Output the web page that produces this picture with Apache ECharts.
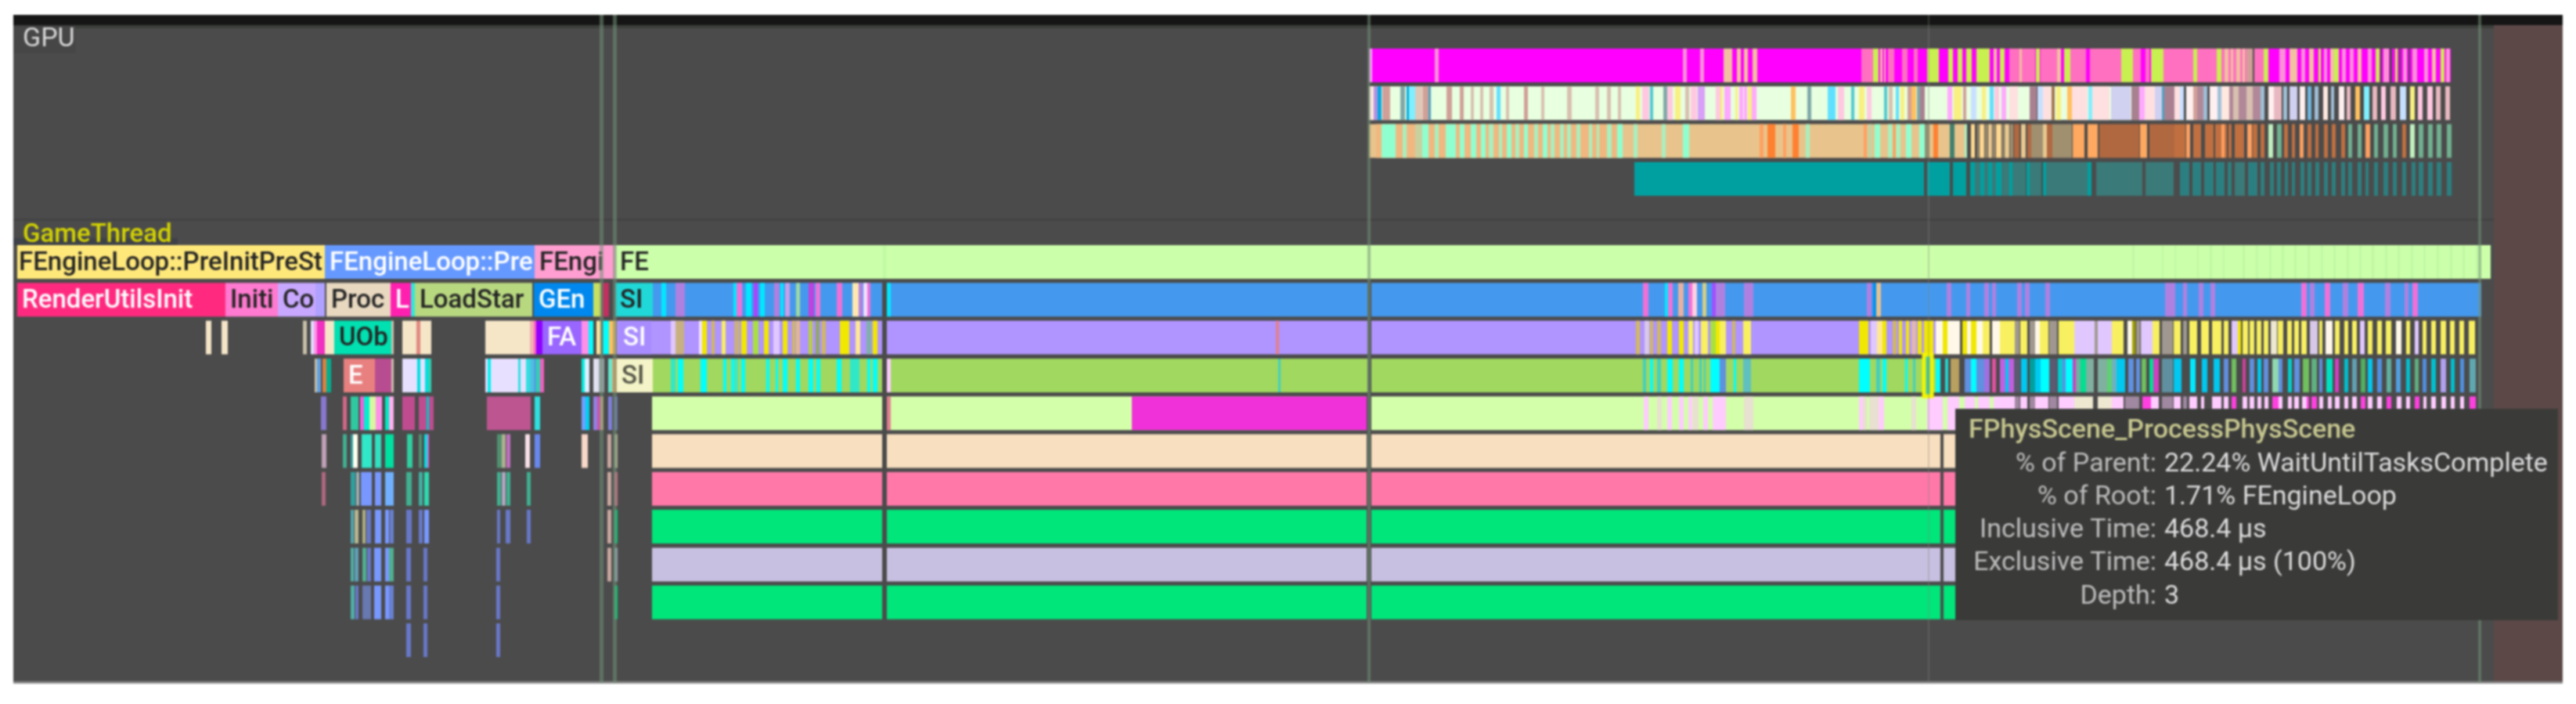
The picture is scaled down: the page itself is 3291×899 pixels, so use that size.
<!DOCTYPE html>
<html><head><meta charset="utf-8">
<style>html,body{margin:0;padding:0;background:#fff}#c{width:3291px;height:899px;filter:blur(1.1px)}</style>
<script src="https://cdn.jsdelivr.net/npm/echarts@6/dist/echarts.min.js"></script>
</head><body><div id="c"></div>
<script>
// Event classes; every span below is [start, end, class, optional label], time in trace ticks.
const palette={mag:'#ff00ff',pkm:'#ff70c0',lime:'#c8f050',pch:'#f0c0a0',pal:'#ff90d8',mnt:'#e8ffe0',sal:'#ffe8e0',orc:'#b090e0',sky:'#00a8e0',rsb:'#d0a098',tgy:'#80a8a8',icy:'#80f0ff',bge:'#e0c8b8',tlb:'#50a0c0',dsk:'#d8c0b0',lsk:'#60e0ff',lyl:'#f8f080',lpk:'#ffc8e0',tl2:'#50c8d0',mau:'#d8a0f8',lmg:'#ffa8ff',amb:'#ffc060',sfp:'#ffe0e0',lbl:'#d0d0f0',tau:'#a88090',lsb:'#c8e0ff',brn:'#a07050',dpl:'#b08898',wpk:'#fff0f0',cpk:'#e8b8c0',gbl:'#a0c0d8',mbl:'#70b8e0',gap:'#4b4b4b',
wht:'#e8c48c',org:'#f0b880',aqu:'#90ffd0',agr:'#a8f0c0',sag:'#c8d0a0',ora:'#ffa060',hot:'#ff8030',ogy:'#909070',dtl:'#408070',wsh:'#ffd890',tan:'#e8c890',rst:'#b06840',khk:'#a09070',ap2:'#ffa860',cop:'#c07040',grn:'#70b090',pgr:'#c0f0c0',
tel:'#00a0a0',tdk:'#2c7f80',tmd:'#3a7a78',
f1:'#ffe87a',f2:'#6699ff',f3:'#ff9ed0',f4:'#ccffaa',f5:'#c0f8a4',rui:'#ff2a7f',ini:'#ff7ad0',cmp:'#c8a8ff',cp2:'#b0a0ff',prc:'#e8d8c0',ln:'#ff20b0',cyl:'#30e8d8',lds:'#b8d880',gen:'#0088ee',ygr:'#c8e060',dre:'#c03060',si1:'#20d8d8',blu:'#4499ee',
pur:'#b080e0',pnk:'#f070d8',cyn:'#00e8ff',vio:'#b040ff',ppk:'#c8a0e8',sgr:'#a0d8a0',dmg:'#c040e0',wyl:'#ffe8b0',lwh:'#f0e0ff',gb:'#e8b0a0',ltp:'#ffd0e0',dky:'#d8d080',vdp:'#a050ff',blz:'#0090f0',kha:'#e8c090',
lav:'#b094ff',si2:'#a88cff',lvw:'#e0c8ff',ttn:'#c8b080',ywl:'#f0e800',ytn:'#d0b860',ypl:'#f8f060',glm:'#a8e040',ror:'#e0b890',ldg:'#b8d040',ggr:'#90a868',lye:'#ffe890',tlg:'#80b0a8',vwh:'#fff8e8',gry:'#a09890',olv:'#a0a000',gyl:'#d8c8e8',rog:'#e0b8b0',
gre:'#a0d860',si3:'#f4f4c8',cya:'#00ffff',tur:'#30e8c8',aqg:'#40e8c0',tqd:'#40d0c0',mbu:'#6090e0',tcy:'#60c0c0',skb:'#20d8d0',bro:'#b8a060',pvi:'#a070e0',hrs:'#e050a0',pv2:'#c060e0',dbl:'#5a5a70',ska:'#00c8f0',dtt:'#00a0a0',sgm:'#70b0a0',emr:'#00e090',sg2:'#80b0a0',mgr:'#60d070',sbl:'#70b0c0',lgr:'#70c060',mgt:'#d040c0',tbl:'#6090a0',hmg:'#d040a0',mnt2:'#90d8b0',tqe:'#00d0d0',tg2:'#60b080',sea:'#00e0c0',tbg:'#60a0b0',gr3:'#50b060',bl3:'#5090e0',tl3:'#60b0a0',bl4:'#50a0e0',tc3:'#00c0d0',blv:'#b0a0f0',ttl:'#60a8b0',
lgn:'#d4ffaa',lil:'#ffccff',pbg:'#e8e0d0',cre:'#eee8d0',dgy:'#a088a0',hpk:'#ff40e0',mag2:'#f030d8',rsl:'#e08090',
pea:'#f8dfc0',rsp:'#ff78a8',jad:'#00e67a',lil2:'#c8c0e0',
crm:'#f5e6c8',ash:'#c8c0a8',lpb:'#e0e0ff',fuc:'#f030c0',ubj:'#00e0b0',ash2:'#d0c0b0',sal2:'#e08880',ash3:'#f0b0b0',hp2:'#ff60c0',deep:'#9000ff',fa:'#9966ff',pkl:'#ff90e8',cgl:'#00ffff',ylo:'#ffe8a0',gld:'#ffc060',
blp:'#60a0e0',orb:'#e08040',tlk:'#00b090',sal3:'#e88080',plm:'#b84c90',lil3:'#e8e0ff',cyb:'#00e0e0',tlg2:'#30d0b0',cyw:'#00f0f0',tq2:'#30e0e0',skl:'#50c0e0',bbl:'#50a0e0',ht2:'#f060c0',tcq:'#00f0e0',wsb:'#e0f0ff',wgb:'#e0e0f0',sgb:'#a0a8b0',tq3:'#60e8d0',aor:'#f0a868',
vdl:'#8878d0',rdl:'#d06888',tq4:'#30c8a0',ptr:'#f060d8',tq5:'#00f0d0',ylg:'#d8f8a0',tq6:'#00e8c0',lpp:'#ffb0f0',ply:'#c04c90',tq7:'#00c8c0',ply2:'#bc5590',bpu:'#70a0ff',skb2:'#00d0f0',bvi:'#9080e0',mg3:'#d050b0',tng:'#d8b080',bvd:'#8080e0',ind:'#6870b0',
mpg:'#c0a0b8',grb:'#40b090',wsl:'#fffff0',tq8:'#30e8c8',tq9:'#30e0c0',emg:'#00e0a0',tq10:'#30d0a0',dgn:'#509070',khk2:'#b0b090',plv:'#c070c0',wpn:'#f8e0e8',blf:'#6888f0',psl:'#f8d8c8',rgy:'#c8a8a0',
rdk:'#b06880',tb1:'#30a0a0',sgg:'#a0b0b0',pbl:'#7898ff',ltb:'#70b0ff',tb2:'#40b0a0',tq11:'#30d8b0',mvb:'#b0a8c0',
tb3:'#50a8b0',khp:'#b8b890',olg:'#b0b080',ins:'#6878c8',inm:'#6880d0',jd2:'#00c070',tb4:'#50b0a8',sb2:'#60a0b8',tg3:'#50b090',sgy:'#90a0b0',inb:'#6878b0'};

const gpuA=[[1749,3131,'mag'],[1749,1753,'lmg'],[1833,1838,'pal'],[2150,2155,'pal'],[2172,2177,'pal'],[2202,2213,'pch'],[2219,2224,'pch'],[2228,2233,'pch'],[2239,2245,'pch'],[2378,2393,'pkm'],[2393,2400,'lime'],[2402,2405,'pch'],[2407,2409,'pch'],[2412,2420,'pkm'],[2430,2437,'pkm'],[2445,2450,'pkm'],[2462,2477,'lime'],[2489,2495,'lime'],[2501,2507,'lime'],[2512,2519,'lime'],[2525,2542,'lime'],[2547,2551,'pch'],[2555,2561,'lime'],[2567,2580,'pkm'],[2580,2583,'pch'],[2583,2600,'pkm'],[2601,2606,'lime'],[2607,2628,'pkm'],[2628,2633,'pch'],[2637,2645,'lime'],[2645,2665,'pkm'],[2670,2710,'pkm'],[2710,2725,'lime'],[2725,2735,'pkm'],[2741,2746,'pkm'],[2748,2764,'lime'],[2764,2802,'pkm'],[2802,2807,'lime'],[2807,2832,'pkm'],[2832,2838,'lime'],[2838,2870,'pkm'],[2842,2847,'pch'],[2850,2853,'pch'],[2857,2862,'pch'],[2865,2868,'pch'],[2870,2878,'rsb'],[2878,2880,'gap'],[2880,2892,'pkm'],[2892,2898,'lime'],[2912,2920,'pal'],[2925,2935,'pch'],[2940,2945,'pal'],[2950,2956,'pch'],[2962,2965,'lime'],[2969,2973,'pal'],[2977,2982,'pch'],[2982,2988,'lime'],[2992,2997,'pal'],[3002,3007,'pal'],[3012,3017,'pch'],[3025,3030,'pal'],[3035,3040,'lime'],[3041,3043,'gap'],[3045,3052,'pal'],[3053,3056,'gap'],[3060,3063,'lime'],[3065,3067,'gap'],[3070,3075,'pal'],[3077,3079,'gap'],[3082,3088,'pal'],[3097,3102,'pal'],[3107,3112,'pch'],[3118,3123,'lime'],[3125,3130,'pal']];

const gpuB=[[1749,2893,'mnt'],[1749,1755,'sal'],[1755,1760,'orc'],[1760,1765,'sky'],[1766,1776,'rsb'],[1789,1795,'tgy'],[1797,1800,'sky'],[1800,1808,'icy'],[1808,1818,'bge'],[1818,1825,'rsb'],[1825,1828,'tlb'],[1848,1855,'rsb'],[1865,1870,'rsb'],[1879,1883,'dsk'],[1891,1895,'dsk'],[1903,1908,'dsk'],[1912,1917,'lsk'],[1924,1928,'dsk'],[1947,1952,'rsb'],[1969,1973,'dsk'],[2002,2008,'dsk'],[2038,2043,'dsk'],[2053,2058,'dsk'],[2067,2071,'dsk'],[2090,2095,'lyl'],[2098,2107,'lpk'],[2108,2112,'tl2'],[2125,2130,'tgy'],[2130,2137,'lpk'],[2140,2147,'lyl'],[2153,2158,'dsk'],[2160,2168,'lpk'],[2169,2178,'mau'],[2192,2198,'lpk'],[2198,2201,'lyl'],[2203,2211,'lmg'],[2217,2220,'lyl'],[2222,2227,'lmg'],[2228,2232,'lmg'],[2233,2238,'lyl'],[2238,2244,'lmg'],[2288,2294,'amb'],[2309,2314,'tgy'],[2335,2345,'lsk'],[2348,2356,'lpk'],[2365,2369,'tl2'],[2375,2382,'lyl'],[2385,2391,'lpk'],[2407,2411,'tl2'],[2413,2418,'dsk'],[2422,2426,'lsk'],[2428,2433,'lyl'],[2437,2442,'rsb'],[2442,2448,'amb'],[2449,2453,'tgy'],[2453,2459,'tau'],[2488,2494,'lmg'],[2496,2506,'lyl'],[2508,2512,'rsb'],[2518,2525,'lsb'],[2532,2537,'lyl'],[2542,2547,'lsk'],[2548,2554,'lpk'],[2557,2563,'lmg'],[2567,2578,'sfp'],[2593,2602,'tau'],[2602,2603,'gap'],[2603,2610,'lsb'],[2610,2620,'sfp'],[2621,2625,'brn'],[2627,2633,'lyl'],[2641,2647,'amb'],[2647,2667,'sfp'],[2668,2673,'icy'],[2673,2695,'sfp'],[2697,2722,'lbl'],[2723,2733,'tau'],[2733,2740,'lmg'],[2740,2753,'sfp'],[2753,2762,'lbl'],[2762,2765,'tlb'],[2765,2778,'tau'],[2778,2785,'sfp'],[2785,2790,'lsb'],[2790,2793,'gap'],[2793,2802,'wpk'],[2802,2807,'rsb'],[2807,2815,'dpl'],[2815,2820,'gbl'],[2820,2823,'gap'],[2823,2833,'wpk'],[2833,2838,'gbl'],[2838,2848,'sal'],[2848,2853,'dpl'],[2853,2860,'dsk'],[2860,2870,'dpl'],[2870,2878,'dsk'],[2878,2888,'dpl'],[2888,2893,'gbl'],[2898,2905,'wpk'],[2905,2915,'cpk'],[2917,2922,'gbl'],[2925,2935,'lbl'],[2938,2945,'wpk'],[2948,2953,'mbl'],[2957,2962,'gbl'],[2968,2974,'sal'],[2978,2982,'gbl'],[2988,2995,'wpk'],[2998,3003,'cpk'],[3009,3015,'amb'],[3020,3027,'icy'],[3031,3037,'cpk'],[3042,3048,'lpk'],[3054,3061,'cpk'],[3066,3074,'lsb'],[3079,3085,'lyl'],[3089,3095,'lpk'],[3101,3108,'lpk'],[3112,3118,'cpk'],[3124,3130,'cpk']];

const gpuC=[[1749,2459,'wht'],[1758,1765,'org'],[1765,2073,'org'],[1765,1783,'aqu'],[1792,1797,'agr'],[1808,1817,'sag'],[1817,1825,'aqu'],[1833,1838,'agr'],[1847,1860,'aqu'],[1865,1871,'aqu'],[1879,1886,'aqu'],[1892,1898,'aqu'],[1902,1908,'agr'],[1915,1919,'agr'],[1925,1931,'aqu'],[1936,1941,'agr'],[1947,1952,'aqu'],[1960,1965,'agr'],[1971,1977,'aqu'],[1981,1986,'agr'],[1993,1998,'agr'],[2002,2007,'agr'],[2014,2019,'agr'],[2030,2034,'agr'],[2040,2043,'agr'],[2053,2059,'agr'],[2066,2073,'aqu'],[2087,2092,'agr'],[2123,2128,'agr'],[2150,2158,'aqu'],[2248,2253,'ora'],[2258,2268,'hot'],[2278,2282,'ora'],[2290,2298,'hot'],[2307,2312,'agr'],[2381,2385,'ora'],[2386,2392,'sag'],[2395,2402,'aqu'],[2412,2418,'agr'],[2418,2422,'ora'],[2422,2428,'agr'],[2435,2442,'aqu'],[2452,2459,'aqu'],[2459,2465,'ogy'],[2465,2470,'wht'],[2470,2476,'hot'],[2476,2491,'wht'],[2491,2497,'dtl'],[2497,2510,'wht'],[2510,2513,'agr'],[2518,2523,'wsh'],[2526,2528,'khk'],[2529,2535,'wsh'],[2536,2539,'khk'],[2540,2545,'tan'],[2546,2549,'khk'],[2550,2557,'wsh'],[2558,2560,'khk'],[2561,2567,'tan'],[2568,2572,'khk'],[2573,2580,'rst'],[2582,2588,'tan'],[2590,2595,'rst'],[2595,2610,'khk'],[2610,2615,'tan'],[2615,2622,'rst'],[2622,2647,'khk'],[2648,2663,'ap2'],[2667,2680,'ap2'],[2682,2733,'rst'],[2734,2743,'ap2'],[2746,2778,'rst'],[2778,2785,'cop'],[2785,2792,'cop'],[2793,2798,'ora'],[2802,2812,'cop'],[2817,2828,'cop'],[2830,2838,'cop'],[2838,2842,'ora'],[2842,2845,'cop'],[2847,2851,'cop'],[2855,2867,'cop'],[2871,2877,'ora'],[2878,2884,'cop'],[2888,2893,'cop'],[2898,2904,'pgr'],[2909,2915,'grn'],[2918,2923,'cop'],[2928,2932,'cop'],[2938,2943,'ora'],[2948,2953,'cop'],[2958,2962,'cop'],[2969,2974,'cop'],[2979,2984,'cop'],[2991,2996,'cop'],[3000,3005,'grn'],[3012,3017,'grn'],[3022,3028,'ora'],[3033,3038,'grn'],[3045,3051,'grn'],[3057,3062,'grn'],[3069,3074,'cop'],[3079,3085,'pgr'],[3090,3096,'grn'],[3102,3108,'grn'],[3113,3119,'grn'],[3126,3132,'grn']];

const gpuD=[[2088,2458,'tel'],[2462,2491,'tel'],[2495,2512,'tel'],[2517,2567,'tmd'],[2517,2523,'tel'],[2530,2535,'tel'],[2540,2545,'tel'],[2550,2557,'tel'],[2567,2571,'tel'],[2571,2588,'tmd'],[2589,2593,'tel'],[2593,2608,'tmd'],[2610,2614,'tel'],[2614,2667,'tmd'],[2667,2672,'tel'],[2678,2737,'tmd'],[2741,2777,'tmd'],[2785,2797,'tdk'],[2801,2812,'tdk'],[2816,2828,'tdk'],[2831,2842,'tdk'],[2846,2851,'tdk'],[2855,2868,'tmd'],[2872,2884,'tdk'],[2888,2893,'tdk'],[2900,2905,'tdk'],[2909,2914,'tdk'],[2919,2923,'tdk'],[2928,2932,'tdk'],[2939,2944,'tdk'],[2948,2953,'tdk'],[2958,2963,'tdk'],[2969,2974,'tdk'],[2979,2984,'tdk'],[2991,2996,'tdk'],[3000,3005,'tdk'],[3012,3017,'tdk'],[3022,3026,'tdk'],[3033,3038,'tdk'],[3045,3051,'tdk'],[3057,3062,'tdk'],[3069,3074,'tdk'],[3081,3086,'tdk'],[3090,3096,'tdk'],[3102,3108,'tdk'],[3113,3119,'tdk'],[3126,3132,'tdk']];

const th0=[[22,415,'f1','FEngineLoop::PreInitPreSt'],[415,683,'f2','FEngineLoop::Pre'],[683,786,'f3','FEngi'],[786,3182,'f4','FE'],[1128,1132,'f5'],[2724,2727,'f5'],[2762,2764,'f5'],[2778,2780,'f5'],[2807,2809,'f5'],[2823,2826,'f5'],[2840,2842,'f5'],[2865,2868,'f5'],[2882,2885,'f5'],[2899,2902,'f5'],[2915,2918,'f5'],[2931,2934,'f5'],[2948,2951,'f5'],[2965,2968,'f5'],[2981,2984,'f5'],[2998,3001,'f5'],[3014,3017,'f5'],[3030,3033,'f5'],[3047,3050,'f5'],[3063,3066,'f5'],[3080,3083,'f5'],[3096,3099,'f5'],[3113,3116,'f5'],[3130,3133,'f5'],[3146,3149,'f5'],[3163,3166,'f5']];

const th1=[[22,288,'rui','RenderUtilsInit'],[288,355,'ini','Initi'],[355,403,'cmp','Co'],[403,415,'cp2'],[417,499,'prc','Proc'],[499,525,'ln','L'],[525,530,'cyl'],[530,680,'lds','LoadStar'],[682,758,'gen','GEn'],[758,768,'ygr'],[770,778,'dre'],[786,834,'si1','SI'],[834,1127,'blu'],[1133,1747,'blu'],[1752,3170,'blu'],[845,851,'cyn'],[863,875,'pur'],[937,941,'cyn'],[941,948,'pnk'],[953,960,'cyn'],[963,968,'vio'],[971,977,'cyn'],[989,996,'pur'],[997,1001,'cyn'],[1003,1009,'ppk'],[1017,1022,'sgr'],[1033,1040,'dmg'],[1042,1048,'pnk'],[1069,1076,'pnk'],[1089,1097,'wyl'],[1097,1102,'pur'],[1103,1108,'lwh'],[1108,1112,'pnk'],[1133,1138,'cyn'],[2099,2106,'pnk'],[2127,2131,'cyn'],[2131,2137,'pnk'],[2144,2151,'gb'],[2157,2162,'pnk'],[2162,2168,'ltp'],[2175,2180,'dky'],[2187,2192,'vdp'],[2192,2204,'pur'],[2228,2240,'pur'],[2385,2391,'pur'],[2393,2397,'blz'],[2397,2403,'kha'],[2487,2493,'pur'],[2512,2517,'pur'],[2535,2541,'pur'],[2545,2550,'pur'],[2577,2583,'pur'],[2587,2593,'pur'],[2613,2619,'pur'],[2766,2779,'pur'],[2789,2794,'pur'],[2809,2815,'pur'],[2824,2830,'pur'],[2940,2947,'pnk'],[2951,2957,'pur'],[2970,2977,'pnk'],[2993,3000,'pur'],[3012,3020,'pnk'],[3047,3054,'pur'],[3072,3077,'pur'],[3082,3089,'pnk']];

const th2=[[263,270,'crm'],[283,291,'crm'],[387,392,'ash'],[397,401,'lpb'],[401,405,'pkl'],[405,415,'fuc'],[415,427,'crm'],[427,500,'ubj','UOb'],[500,503,'ash2'],[514,532,'crm'],[532,537,'sal2'],[537,551,'crm'],[620,677,'crm'],[677,682,'ash3'],[682,685,'hp2'],[685,693,'deep'],[693,743,'fa','FA'],[743,752,'pkl'],[752,758,'cgl'],[762,768,'ylo'],[770,778,'cgl'],[778,787,'gld'],[788,1127,'lav'],[790,832,'si2','SI'],[1133,1747,'lav'],[1752,2473,'lav'],[857,863,'lvw'],[863,874,'ttn'],[893,897,'lwh'],[897,903,'ywl'],[909,913,'ytn'],[922,927,'ypl'],[938,945,'ttn'],[947,954,'ywl'],[962,969,'glm'],[976,982,'ywl'],[988,996,'lvw'],[1000,1006,'ywl'],[1012,1016,'ytn'],[1017,1022,'ror'],[1033,1038,'ldg'],[1042,1047,'ggr'],[1050,1055,'ytn'],[1073,1085,'ywl'],[1093,1099,'lye'],[1107,1113,'tlg'],[1115,1121,'ywl'],[1630,1634,'rsl'],[2090,2095,'ytn'],[2101,2107,'gyl'],[2108,2112,'ytn'],[2117,2122,'ytn'],[2130,2136,'ywl'],[2145,2151,'ywl'],[2157,2163,'ypl'],[2165,2170,'lvw'],[2173,2182,'ypl'],[2185,2192,'glm'],[2192,2197,'ywl'],[2197,2205,'ypl'],[2213,2217,'ytn'],[2227,2237,'ypl'],[2375,2387,'ywl'],[2390,2398,'lvw'],[2398,2405,'lye'],[2405,2410,'ywl'],[2418,2423,'ytn'],[2426,2430,'ywl'],[2435,2439,'ywl'],[2442,2448,'rog'],[2450,2455,'ywl'],[2458,2470,'ywl'],[2473,2482,'vwh'],[2482,2488,'ywl'],[2488,2504,'vwh'],[2507,2513,'ywl'],[2513,2518,'vwh'],[2518,2525,'ywl'],[2525,2533,'vwh'],[2533,2542,'ypl'],[2545,2555,'vwh'],[2555,2574,'ypl'],[2574,2580,'gry'],[2581,2590,'ypl'],[2593,2600,'gry'],[2600,2606,'vwh'],[2606,2617,'ypl'],[2618,2628,'gry'],[2630,2650,'ypl'],[2650,2676,'lvw'],[2676,2680,'gry'],[2680,2698,'lvw'],[2698,2713,'ypl'],[2718,2724,'vwh'],[2724,2728,'olv'],[2729,2734,'gry'],[2735,2750,'lvw'],[2750,2759,'ypl'],[2762,2776,'gry'],[2777,2786,'ypl'],[2789,2794,'gry'],[2797,2807,'ypl'],[2812,2822,'ypl'],[2826,2838,'ypl'],[2841,2847,'ypl'],[2851,2859,'lvw'],[2859,2863,'ywl'],[2865,2872,'ypl'],[2874,2880,'ypl'],[2883,2889,'ypl'],[2892,2898,'ypl'],[2901,2909,'cre'],[2910,2917,'ypl'],[2922,2928,'ypl'],[2931,2937,'ypl'],[2940,2947,'ypl'],[2951,2961,'gyl'],[2963,2967,'ypl'],[2971,2980,'vwh'],[2983,2989,'ypl'],[2995,3000,'ypl'],[3005,3011,'ypl'],[3015,3021,'lvw'],[3025,3031,'ypl'],[3037,3043,'ypl'],[3048,3055,'ypl'],[3061,3068,'vwh'],[3074,3079,'ypl'],[3085,3090,'lvw'],[3095,3100,'ypl'],[3106,3112,'ypl'],[3118,3125,'ypl'],[3130,3136,'ypl'],[3142,3148,'ypl'],[3154,3162,'ypl']];

const th3=[[402,405,'ash'],[405,410,'blp'],[412,417,'orb'],[417,423,'tlk'],[439,479,'sal3','E'],[479,500,'plm'],[500,503,'ash2'],[514,533,'lil3'],[533,537,'cyb'],[537,543,'lil3'],[543,547,'cyb'],[547,551,'tlg2'],[620,623,'lwh'],[623,627,'cyw'],[627,662,'lil3'],[662,665,'tq2'],[665,672,'lil3'],[672,677,'tq2'],[677,682,'skl'],[682,685,'bbl'],[685,690,'tlg2'],[690,695,'ht2'],[743,747,'tcq'],[747,753,'wsb'],[758,765,'wgb'],[765,772,'sgb'],[777,782,'tq3'],[782,788,'aor'],[788,834,'si3','SI'],[834,1127,'gre'],[1133,1747,'gre'],[1752,2473,'gre'],[857,863,'tur'],[866,873,'cya'],[895,903,'cya'],[924,928,'cya'],[934,937,'cya'],[937,943,'aqg'],[947,952,'cya'],[979,983,'cya'],[991,994,'cya'],[1000,1006,'cya'],[1017,1022,'cya'],[1033,1039,'cya'],[1043,1048,'cya'],[1069,1075,'cya'],[1086,1098,'tur'],[1108,1112,'cya'],[1115,1121,'cya'],[1133,1138,'lil'],[1633,1636,'tqd'],[2099,2103,'tqd'],[2108,2112,'cya'],[2117,2122,'tqd'],[2130,2137,'cya'],[2145,2151,'cya'],[2160,2163,'tqd'],[2171,2174,'tqd'],[2177,2179,'tqd'],[2185,2197,'cya'],[2197,2205,'mbu'],[2215,2218,'cya'],[2227,2237,'tcy'],[2375,2389,'cya'],[2397,2402,'tqd'],[2405,2410,'cya'],[2434,2437,'cya'],[2444,2447,'tqd'],[2473,2479,'cya'],[2485,2489,'skb'],[2492,2503,'bro'],[2510,2518,'mbu'],[2518,2525,'cya'],[2525,2535,'mbu'],[2535,2542,'pvi'],[2545,2550,'hrs'],[2555,2562,'pv2'],[2562,2566,'ska'],[2566,2573,'pv2'],[2573,2581,'dbl'],[2582,2590,'ska'],[2593,2600,'dtt'],[2600,2607,'ska'],[2607,2618,'cya'],[2618,2628,'dbl'],[2629,2635,'tqe'],[2635,2639,'mbu'],[2639,2648,'cya'],[2648,2652,'mgt'],[2652,2658,'sgm'],[2658,2665,'emr'],[2665,2675,'sg2'],[2680,2692,'sg2'],[2692,2698,'mgr'],[2698,2704,'sbl'],[2704,2715,'ska'],[2719,2726,'mbu'],[2729,2734,'mbu'],[2736,2742,'lgr'],[2746,2751,'emr'],[2751,2758,'mgt'],[2762,2776,'tbl'],[2777,2787,'ska'],[2798,2805,'cyn'],[2813,2820,'ska'],[2828,2836,'ska'],[2841,2847,'mbu'],[2851,2857,'lgr'],[2865,2869,'hmg'],[2874,2880,'mbu'],[2884,2889,'ska'],[2892,2898,'mbu'],[2903,2911,'mnt2'],[2911,2916,'mbu'],[2923,2928,'tqe'],[2931,2938,'mbu'],[2942,2950,'lgr'],[2953,2960,'tg2'],[2963,2967,'mbu'],[2972,2980,'sea'],[2983,2988,'mgt'],[2995,3000,'tc3'],[3005,3011,'tbg'],[3016,3022,'gr3'],[3025,3031,'ska'],[3037,3043,'bl3'],[3049,3055,'tl3'],[3061,3067,'bl4'],[3074,3079,'tc3'],[3085,3090,'tg2'],[3095,3100,'bl3'],[3106,3112,'tc3'],[3118,3125,'blv'],[3131,3136,'tc3'],[3143,3148,'bl3'],[3155,3163,'ttl']];

const th4=[[410,417,'vdl'],[438,443,'rdl'],[448,458,'tq4'],[460,465,'ptr'],[465,472,'tq5'],[472,480,'ylg'],[480,488,'pkl'],[492,497,'tq6'],[497,503,'lpp'],[514,530,'ply'],[535,545,'ply'],[545,548,'tq7'],[548,554,'ply'],[622,678,'ply2'],[683,690,'tq2'],[743,748,'bpu'],[748,753,'skb2'],[758,763,'bvi'],[763,767,'mg3'],[767,771,'tng'],[777,782,'bvd'],[785,789,'ind'],[833,1127,'lgn'],[1133,1746,'lgn'],[1752,2574,'lgn'],[1133,1138,'rsl'],[1446,1746,'mag2'],[2100,2106,'lil'],[2117,2123,'pbg'],[2130,2136,'lil'],[2145,2151,'lil'],[2157,2162,'lil'],[2163,2170,'pbg'],[2176,2182,'lil'],[2188,2205,'lil'],[2228,2240,'pbg'],[2375,2380,'lil'],[2380,2385,'pbg'],[2388,2400,'pbg'],[2400,2407,'lil'],[2442,2448,'pbg'],[2462,2482,'lil'],[2488,2503,'lil'],[2510,2523,'lil'],[2527,2542,'lil'],[2547,2574,'lil'],[2574,2580,'dgy'],[2581,2590,'lil'],[2593,2600,'dgy'],[2600,2617,'lil'],[2618,2628,'dgy'],[2630,2650,'lil'],[2650,2674,'cre'],[2680,2698,'cre'],[2698,2713,'lil'],[2715,2733,'dgy'],[2737,2748,'hpk'],[2748,2758,'lil'],[2762,2776,'dgy'],[2777,2786,'lil'],[2789,2794,'dgy'],[2797,2807,'lil'],[2812,2816,'lil'],[2826,2838,'lil'],[2841,2847,'lil'],[2851,2857,'hpk'],[2865,2871,'lil'],[2874,2880,'lil'],[2884,2889,'lil'],[2893,2898,'lil'],[2903,2911,'hpk'],[2911,2916,'lil'],[2923,2928,'lil'],[2931,2937,'lil'],[2941,2947,'lil'],[2947,2950,'hpk'],[2953,2960,'hpk'],[2963,2968,'lil'],[2974,2979,'lil'],[2983,2989,'lil'],[2995,3000,'lil'],[3005,3011,'lil'],[3016,3022,'hpk'],[3025,3031,'lil'],[3037,3043,'lil'],[3049,3055,'hpk'],[3062,3068,'lil'],[3074,3079,'lil'],[3085,3091,'hpk'],[3096,3100,'lil'],[3106,3112,'lil'],[3119,3125,'lil'],[3131,3136,'lil'],[3143,3148,'lil'],[3155,3163,'hpk']];

const th5=[[411,417,'mpg'],[438,443,'grb'],[448,451,'tb1'],[451,457,'wsl'],[462,475,'tq8'],[479,487,'tq9'],[492,503,'emg'],[520,527,'tq10'],[535,539,'dgn'],[542,546,'cyb'],[546,548,'ptr'],[635,641,'dgn'],[641,646,'khk2'],[647,652,'plv'],[671,677,'wpn'],[683,690,'blf'],[743,751,'psl'],[776,781,'rgy'],[785,789,'khk2'],[833,1127,'pea'],[1133,1746,'pea'],[1752,2479,'pea'],[2483,2500,'pea']];
const th6=[[411,416,'rdk'],[448,454,'tb1'],[455,459,'sgg'],[461,475,'pbl'],[479,487,'pbl'],[492,503,'ltb'],[519,526,'grb'],[535,540,'tb2'],[542,548,'tq11'],[635,640,'grb'],[641,646,'mvb'],[647,652,'grb'],[673,678,'grb'],[776,781,'rgy'],[785,789,'rdl'],[833,1127,'rsp'],[1133,1746,'rsp'],[1752,2479,'rsp'],[2483,2500,'rsp']];
const th7=[[448,452,'tb3'],[453,458,'khp'],[463,467,'olg'],[468,474,'ins'],[479,487,'pbl'],[492,497,'pbl'],[498,503,'inm'],[519,526,'ins'],[535,540,'ins'],[542,548,'pbl'],[635,639,'ins'],[646,652,'ins'],[673,678,'ins'],[776,781,'rgy'],[785,789,'jd2'],[833,1127,'jad'],[1133,1746,'jad'],[1752,2479,'jad'],[2483,2500,'jad']];
const th8=[[448,452,'tb4'],[453,458,'sb2'],[463,468,'tg3'],[469,474,'ins'],[478,487,'pbl'],[492,497,'pbl'],[497,503,'tg3'],[519,525,'ins'],[541,546,'ins'],[634,639,'ins'],[776,781,'rgy'],[785,789,'sgy'],[833,1127,'lil2'],[1133,1746,'lil2'],[1752,2479,'lil2'],[2483,2500,'lil2']];
const th9=[[448,453,'tb4'],[454,458,'ins'],[463,474,'inb'],[478,487,'pbl'],[492,497,'pbl'],[497,503,'inm'],[519,525,'ins'],[541,546,'ins'],[634,639,'ins'],[785,789,'jd2'],[833,1127,'jad'],[1133,1746,'jad'],[1752,2479,'jad'],[2483,2500,'jad']];
const th10=[[519,525,'ins'],[541,546,'ins'],[634,639,'ins']];

const gpuRows=[gpuA,gpuB,gpuC,gpuD];
const threadRows=[th0,th1,th2,th3,th4,th5,th6,th7,th8,th9,th10];
const selectedSpans=[[2456,2470,3]];
const frameMarkers=[768,785,1749,2464,3168];
const trackNames=['GPU','GameThread'];
const tooltipTitle='FPhysScene_ProcessPhysScene';
const tooltipKeys=['% of Parent:','% of Root:','Inclusive Time:','Exclusive Time:','Depth:'];
const tooltipValues=['22.24% WaitUntilTasksComplete','1.71% FEngineLoop','468.4 µs','468.4 µs (100%)','3'];
const lightInk=['f2','rui','ln','gen','fa','si2','sal3'];
const tightInset=['f1'];

const FONT='Roboto';
const flat=rows=>{const o=[];rows.forEach((r,ri)=>r.forEach(s=>o.push([s[0],s[1],ri,s[2],s[3]||''])));return o;};
function spanSeries(name,rows,idx,frac){
  const src=flat(rows);
  return {type:'custom',name,silent:true,xAxisIndex:idx,yAxisIndex:idx,clip:true,progressive:0,z:3,
    encode:{x:[0,1],y:2},
    data:src.map(s=>[s[0],s[1],s[2]]),
    renderItem(p,api){
      const s=src[p.dataIndex];
      const a=api.coord([s[0],s[2]]),b=api.coord([s[1],s[2]]);
      const h=api.size([0,1])[1]*frac;
      const kids=[{type:'rect',shape:{x:a[0],y:a[1]-h/2,width:b[0]-a[0],height:h},style:{fill:palette[s[3]]}}];
      if(s[4]) kids.push({type:'text',x:a[0]+(tightInset.includes(s[3])?2:6),y:a[1]+2,style:{text:s[4],font:'500 33px '+FONT,fill:lightInk.includes(s[3])?'#ffffff':(s[3]==='si3'?'#555548':'#242424'),verticalAlign:'middle',align:'left'}});
      return {type:'group',children:kids};
    }};
}
const hid=(o)=>Object.assign({show:false},o);
const xA=i=>hid({type:'value',gridIndex:i,min:17,max:3274});
const L=17,W=3257;
const option={
  animation:false,backgroundColor:'#ffffff',
  grid:[
    {left:L,width:W,top:19,height:853,show:true,backgroundColor:'#4b4b4b',borderWidth:0},
    {left:L,width:W,top:59.35,height:193.2,borderWidth:0},
    {left:L,width:W,top:310.35,height:531.3,borderWidth:0}
  ],
  xAxis:[xA(0),xA(1),xA(2)],
  yAxis:[
    hid({type:'value',gridIndex:0,min:0,max:1}),
    hid({type:'category',gridIndex:1,inverse:true,data:gpuRows.map((_,i)=>i)}),
    hid({type:'category',gridIndex:2,inverse:true,data:threadRows.map((_,i)=>i)})
  ],
  graphic:{elements:[
    {type:'rect',z:1,shape:{x:L,y:19,width:W,height:13},style:{fill:'#151515'}},
    {type:'rect',z:1,shape:{x:L,y:32,width:W,height:4},style:{fill:'#3a3d3a'}},
    {type:'rect',z:1,shape:{x:3186,y:32,width:88,height:838},style:{fill:'#5b4847'}},
    {type:'rect',z:1,shape:{x:L,y:279,width:W-88,height:3},style:{fill:'#444444'}},
    {type:'rect',z:1,shape:{x:L,y:870,width:W,height:3},style:{fill:'#8a8a8a'}},
    {type:'rect',z:1,shape:{x:L,y:34,width:80,height:34},style:{fill:'#464646'}},
    {type:'rect',z:1,shape:{x:L,y:304,width:210,height:9},style:{fill:'#3e4148'}},
    {type:'text',z:9,x:29,y:50,style:{text:trackNames[0],font:'34px '+FONT,fill:'#d8d8d8',verticalAlign:'middle'}},
    {type:'text',z:9,x:29,y:301,style:{text:trackNames[1],font:'500 33px '+FONT,fill:'#d4d400',verticalAlign:'middle'}},
    {type:'rect',z:20,shape:{x:2498,y:522,width:770,height:270},style:{fill:'#3a3b39'}},
    {type:'text',z:21,x:2515,y:550,style:{text:tooltipTitle,font:'500 34px '+FONT,fill:'#c8c890',verticalAlign:'middle'}},
    ...tooltipKeys.map((t,i)=>({type:'text',z:21,x:2755,y:593+i*42.3,style:{text:t,font:'34px '+FONT,fill:'#bdbdbd',align:'right',verticalAlign:'middle'}})),
    ...tooltipValues.map((t,i)=>({type:'text',z:21,x:2765,y:593+i*42.3,style:{text:t,font:'34px '+FONT,fill:'#dcdcdc',verticalAlign:'middle'}}))
  ]},
  series:[
    {type:'line',xAxisIndex:0,yAxisIndex:0,data:[],silent:true,z:5,
     markLine:{silent:true,symbol:'none',label:{show:false},animation:false,z:5,
       data:frameMarkers.map((x,i)=>({xAxis:x,lineStyle:{color:i===3?'rgba(125,135,125,.32)':'rgba(115,145,120,.55)',width:i<2?5:(i===3?2:4),type:'solid'}}))}},
    spanSeries('GPU',gpuRows,1,0.89),
    spanSeries('GameThread',threadRows,2,0.89),
    {type:'custom',name:'selected',silent:true,xAxisIndex:2,yAxisIndex:2,z:4,
     data:selectedSpans,encode:{x:[0,1],y:2},
     renderItem(p,api){
       const a=api.coord([api.value(0),api.value(2)]),b=api.coord([api.value(1),api.value(2)]);
       const h=api.size([0,1])[1]*1.1;
       return {type:'rect',shape:{x:a[0]+2,y:a[1]-h/2,width:b[0]-a[0]-4,height:h},style:{fill:'#40c8a0',stroke:'#f4f400',lineWidth:5}};
     }}
  ]
};
const chart=echarts.init(document.getElementById('c'),null,{renderer:'canvas'});
chart.setOption(option);
document.fonts.load('500 33px Roboto').finally(()=>chart.setOption(option,true));
</script></body></html>
